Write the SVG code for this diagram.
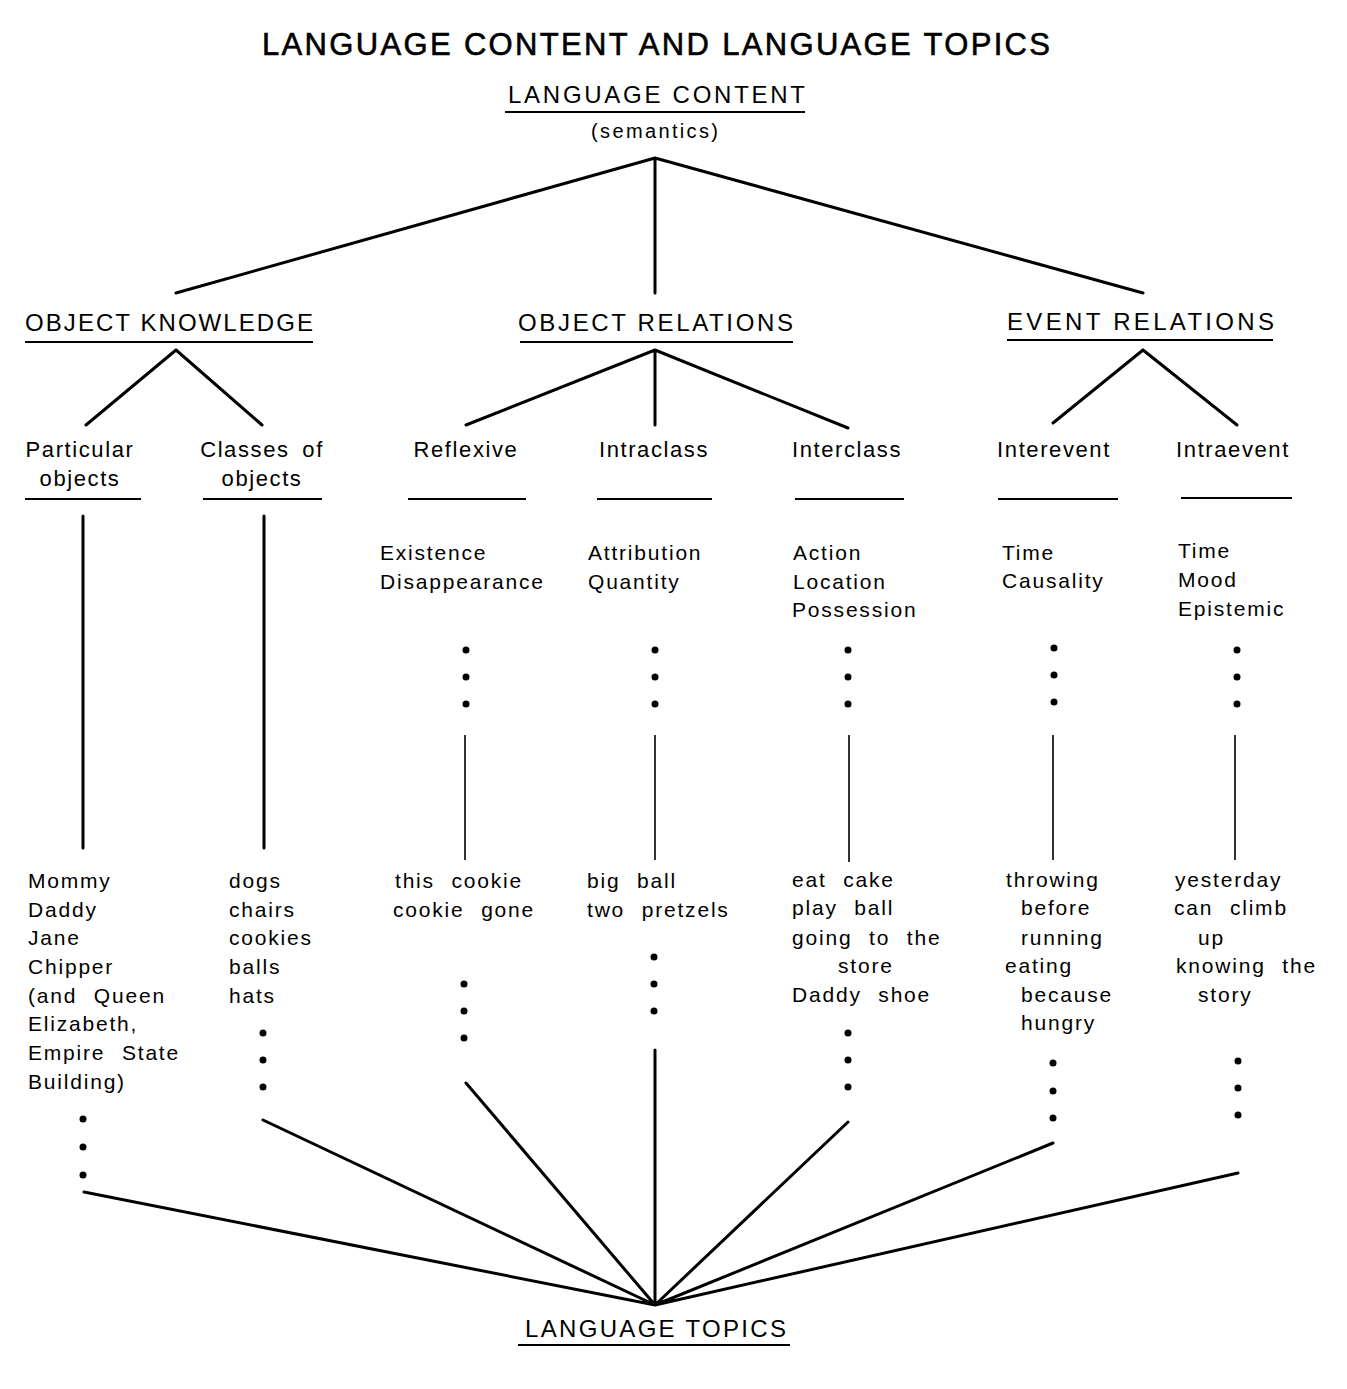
<svg xmlns="http://www.w3.org/2000/svg" width="1347" height="1389" viewBox="0 0 1347 1389">
<style>
text{font-family:"Liberation Sans",Arial,sans-serif;fill:#000}
.title{font-size:31px;stroke:#000;stroke-width:0.6}
.head{font-size:24px}
.sub{font-size:22px;letter-spacing:1.6px;word-spacing:5px}
.t{font-size:21px;letter-spacing:1.8px;word-spacing:9px}
.u{stroke:#000;stroke-width:2}
.c{stroke:#000;stroke-width:3;fill:none;stroke-linecap:round}
.thin{stroke:#000;stroke-width:1.6;fill:none}
.d{fill:#000}
</style>
<rect width="1347" height="1389" fill="#fff"/>
<g id="title"><text class="title" x="262" y="55" textLength="788" lengthAdjust="spacing">LANGUAGE CONTENT AND LANGUAGE TOPICS</text></g>
<g id="connectors">
<path class="c" d="M655 158L176 293M655 158L655 293M655 158L1143 293"/>
<path class="c" d="M176 350L86 425M176 350L262 425"/>
<path class="c" d="M655 350L466 425M655 350L655 425M655 350L848 428"/>
<path class="c" d="M1143 350L1053 423M1143 350L1237 425"/>
<path class="c" d="M83 516L83 848M264 516L264 848"/>
<path class="thin" d="M465 735L465 860M655 735L655 860M849 735L849 862M1053 735L1053 860M1235 735L1235 860"/>
<path class="c" d="M84 1192L655 1305M263 1120L655 1305M466 1083L655 1305M655 1050L655 1305M848 1122L655 1305M1053 1143L655 1305M1238 1173L655 1305"/>
</g>
<g id="language-content">
<text class="head" x="508" y="103" textLength="297" lengthAdjust="spacing">LANGUAGE CONTENT</text>
<line class="u" x1="505" y1="112" x2="805" y2="112"/>
<text x="591" y="138" style="font-size:20px" textLength="127" lengthAdjust="spacing">(semantics)</text>
</g>
<g id="object-knowledge">
<text class="head" x="25" y="331" textLength="288" lengthAdjust="spacing">OBJECT KNOWLEDGE</text>
<line class="u" x1="25" y1="342" x2="313" y2="342"/>
</g>
<g id="object-relations">
<text class="head" x="518" y="331" textLength="275" lengthAdjust="spacing">OBJECT RELATIONS</text>
<line class="u" x1="520" y1="342" x2="793" y2="342"/>
</g>
<g id="event-relations">
<text class="head" x="1007" y="330" textLength="267" lengthAdjust="spacing">EVENT RELATIONS</text>
<line class="u" x1="1007" y1="340" x2="1273" y2="340"/>
</g>
<g id="particular-objects">
<text class="sub" x="80" y="457" text-anchor="middle">Particular</text>
<text class="sub" x="80" y="486" text-anchor="middle">objects</text>
<line class="u" x1="25" y1="499" x2="141" y2="499"/>
</g>
<g id="classes-of-objects">
<text class="sub" x="262" y="457" text-anchor="middle">Classes of</text>
<text class="sub" x="262" y="486" text-anchor="middle">objects</text>
<line class="u" x1="203" y1="499" x2="322" y2="499"/>
</g>
<g id="reflexive">
<text class="sub" x="466" y="457" text-anchor="middle">Reflexive</text>
<line class="u" x1="408" y1="499" x2="526" y2="499"/>
<text class="t" x="380" y="560">Existence</text>
<text class="t" x="380" y="589">Disappearance</text>
</g>
<g id="intraclass">
<text class="sub" x="654" y="457" text-anchor="middle">Intraclass</text>
<line class="u" x1="597" y1="499" x2="712" y2="499"/>
<text class="t" x="588" y="560">Attribution</text>
<text class="t" x="588" y="589">Quantity</text>
</g>
<g id="interclass">
<text class="sub" x="847" y="457" text-anchor="middle">Interclass</text>
<line class="u" x1="795" y1="499" x2="904" y2="499"/>
<text class="t" x="793" y="560">Action</text>
<text class="t" x="793" y="589">Location</text>
<text class="t" x="792" y="617">Possession</text>
</g>
<g id="interevent">
<text class="sub" x="1054" y="457" text-anchor="middle">Interevent</text>
<line class="u" x1="998" y1="499" x2="1118" y2="499"/>
<text class="t" x="1002" y="560">Time</text>
<text class="t" x="1002" y="588">Causality</text>
</g>
<g id="intraevent">
<text class="sub" x="1233" y="457" text-anchor="middle">Intraevent</text>
<line class="u" x1="1181" y1="498" x2="1292" y2="498"/>
<text class="t" x="1178" y="558">Time</text>
<text class="t" x="1178" y="587">Mood</text>
<text class="t" x="1178" y="616">Epistemic</text>
</g>
<g id="dots">
<circle class="d" cx="466" cy="650" r="3.5"/><circle class="d" cx="466" cy="677" r="3.5"/><circle class="d" cx="466" cy="704" r="3.5"/>
<circle class="d" cx="655" cy="650" r="3.5"/><circle class="d" cx="655" cy="677" r="3.5"/><circle class="d" cx="655" cy="704" r="3.5"/>
<circle class="d" cx="848" cy="650" r="3.5"/><circle class="d" cx="848" cy="677" r="3.5"/><circle class="d" cx="848" cy="704" r="3.5"/>
<circle class="d" cx="1054" cy="648" r="3.5"/><circle class="d" cx="1054" cy="675" r="3.5"/><circle class="d" cx="1054" cy="702" r="3.5"/>
<circle class="d" cx="1237" cy="650" r="3.5"/><circle class="d" cx="1237" cy="677" r="3.5"/><circle class="d" cx="1237" cy="704" r="3.5"/>
<circle class="d" cx="83" cy="1119" r="3.5"/><circle class="d" cx="83" cy="1147" r="3.5"/><circle class="d" cx="83" cy="1175" r="3.5"/>
<circle class="d" cx="263" cy="1033" r="3.5"/><circle class="d" cx="263" cy="1060" r="3.5"/><circle class="d" cx="263" cy="1087" r="3.5"/>
<circle class="d" cx="464" cy="984" r="3.5"/><circle class="d" cx="464" cy="1011" r="3.5"/><circle class="d" cx="464" cy="1038" r="3.5"/>
<circle class="d" cx="654" cy="957" r="3.5"/><circle class="d" cx="654" cy="984" r="3.5"/><circle class="d" cx="654" cy="1011" r="3.5"/>
<circle class="d" cx="848" cy="1033" r="3.5"/><circle class="d" cx="848" cy="1060" r="3.5"/><circle class="d" cx="848" cy="1087" r="3.5"/>
<circle class="d" cx="1053" cy="1063" r="3.5"/><circle class="d" cx="1053" cy="1091" r="3.5"/><circle class="d" cx="1053" cy="1118" r="3.5"/>
<circle class="d" cx="1238" cy="1061" r="3.5"/><circle class="d" cx="1238" cy="1088" r="3.5"/><circle class="d" cx="1238" cy="1115" r="3.5"/>
</g>
<g id="particular-examples">
<text class="t" x="28" y="888">Mommy</text>
<text class="t" x="28" y="917">Daddy</text>
<text class="t" x="28" y="945">Jane</text>
<text class="t" x="28" y="974">Chipper</text>
<text class="t" x="28" y="1003">(and Queen</text>
<text class="t" x="28" y="1031">Elizabeth,</text>
<text class="t" x="28" y="1060">Empire State</text>
<text class="t" x="28" y="1089">Building)</text>
</g>
<g id="classes-examples">
<text class="t" x="229" y="888">dogs</text>
<text class="t" x="229" y="917">chairs</text>
<text class="t" x="229" y="945">cookies</text>
<text class="t" x="229" y="974">balls</text>
<text class="t" x="229" y="1003">hats</text>
</g>
<g id="reflexive-examples">
<text class="t" x="395" y="888">this cookie</text>
<text class="t" x="393" y="917">cookie gone</text>
</g>
<g id="intraclass-examples">
<text class="t" x="587" y="888">big ball</text>
<text class="t" x="587" y="917">two pretzels</text>
</g>
<g id="interclass-examples">
<text class="t" x="792" y="887">eat cake</text>
<text class="t" x="792" y="915">play ball</text>
<text class="t" x="792" y="945">going to the</text>
<text class="t" x="838" y="973">store</text>
<text class="t" x="792" y="1002">Daddy shoe</text>
</g>
<g id="interevent-examples">
<text class="t" x="1006" y="887">throwing</text>
<text class="t" x="1021" y="915">before</text>
<text class="t" x="1021" y="945">running</text>
<text class="t" x="1005" y="973">eating</text>
<text class="t" x="1021" y="1002">because</text>
<text class="t" x="1021" y="1030">hungry</text>
</g>
<g id="intraevent-examples">
<text class="t" x="1175" y="887">yesterday</text>
<text class="t" x="1174" y="915">can climb</text>
<text class="t" x="1198" y="945">up</text>
<text class="t" x="1176" y="973">knowing the</text>
<text class="t" x="1198" y="1002">story</text>
</g>
<g id="language-topics">
<text class="head" x="525" y="1337" textLength="261" lengthAdjust="spacing">LANGUAGE TOPICS</text>
<line class="u" x1="518" y1="1345" x2="790" y2="1345"/>
</g>
</svg>
